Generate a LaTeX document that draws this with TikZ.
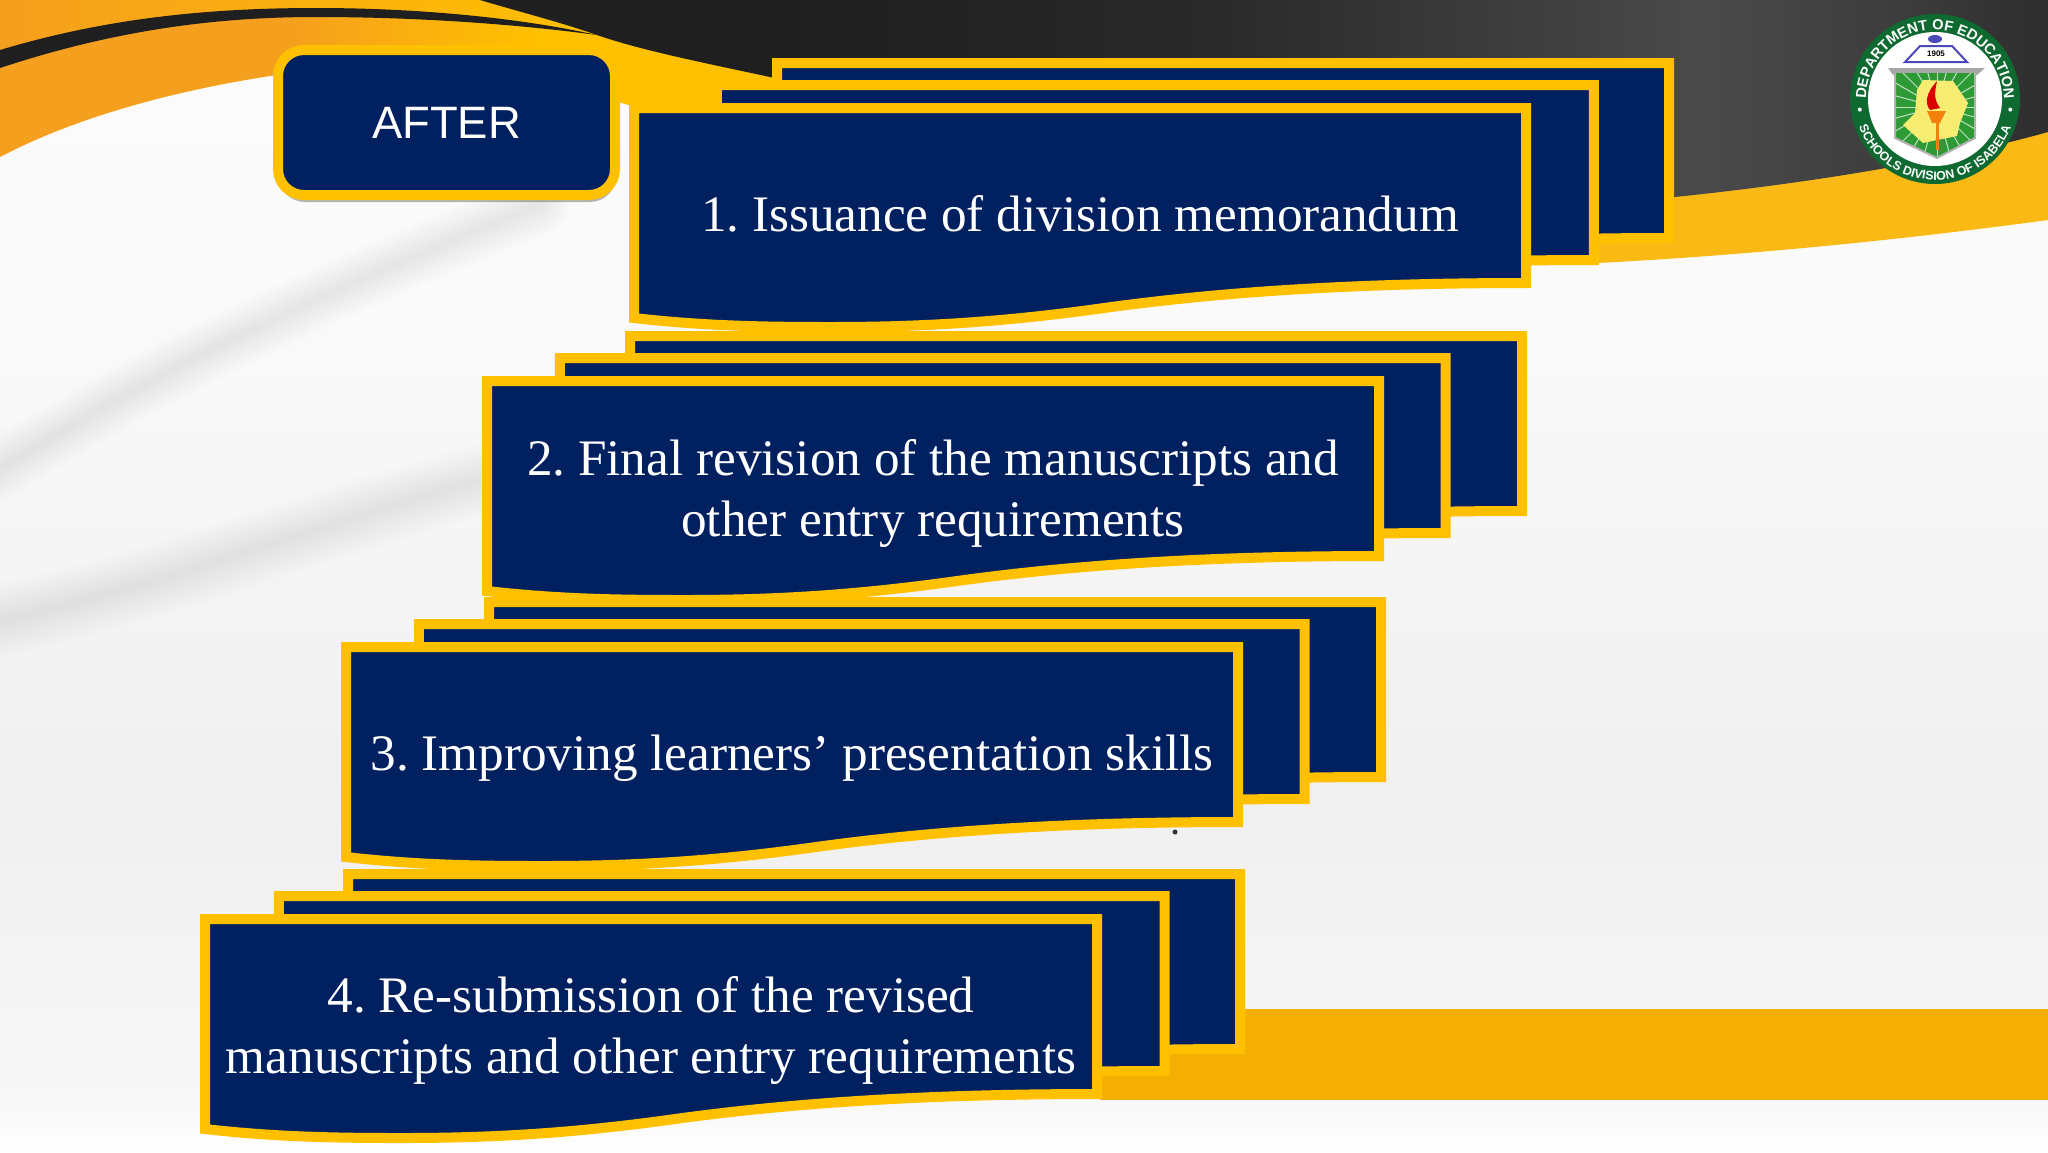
\documentclass[tikz,border=0pt]{standalone}
\usepackage{xcolor}
\usepackage{fontspec}
\setmainfont{Liberation Serif}
\newfontfamily\slidesans{Liberation Sans}
\usepackage{tikz}
\usetikzlibrary{shadows,decorations.text}
\definecolor{slideNavy}{HTML}{002060}
\definecolor{slideGold}{HTML}{FFC000}
\definecolor{slideBand}{HTML}{F5AE03}
\definecolor{slideAmber}{HTML}{F59F1E}
\definecolor{slideSwoosh}{HTML}{FBB915}
\definecolor{slideTop}{HTML}{FBFBFB}
\definecolor{slideUpper}{HTML}{FAFAFA}
\definecolor{slideMid}{HTML}{F0F0F0}
\definecolor{slideLow}{HTML}{F8F8F8}
\definecolor{sealGreen}{HTML}{0E6A30}
\definecolor{sealLeaf}{HTML}{2E9A35}
\definecolor{sealYellow}{HTML}{F7EC72}
\definecolor{sealBlue}{HTML}{4A4AB8}
\pgfdeclarehorizontalshading{darkband}{100bp}{color(0bp)=(black!88); color(34bp)=(black!88); color(48bp)=(black!84); color(64bp)=(black!71); color(70bp)=(black!76); color(75bp)=(black!82); color(100bp)=(black!82)}
\pgfdeclarehorizontalshading{goldband}{100bp}{color(0bp)=(slideAmber); color(32bp)=(slideAmber); color(38bp)=(slideGold); color(49bp)=(slideGold); color(66bp)=(slideSwoosh); color(100bp)=(slideSwoosh)}
\pgfdeclareverticalshading{pageback}{100bp}{color(0bp)=(white); color(25bp)=(white); color(27bp)=(slideLow); color(40bp)=(slideMid); color(62bp)=(slideUpper); color(75bp)=(slideTop); color(100bp)=(slideTop)}
\tikzset{
  doc sheet/.style={draw=slideGold,fill=slideNavy,line width=5pt,miter limit=10},
  item text/.style={text=white,font=\fontsize{25.6}{30.5}\selectfont,align=center,inner sep=0pt},
  after box/.style={draw=slideGold,fill=slideNavy,line width=5pt,rounded corners=13pt,
    minimum width=168.5pt,minimum height=72.5pt,text=white,
    font=\slidesans\fontsize{22.7}{26}\selectfont,
    drop shadow={shadow xshift=0.5pt,shadow yshift=-3.5pt,opacity=.4,fill=black!70}},
  streak/.style={line cap=round,draw=black,opacity=.006},
  seal text/.style={decorate,decoration={text along path,text color=white,text align=center,text={#1}}}
}
\newcommand{\docsheet}[3]{\path[doc sheet,shift={(#1,#2)},xscale=#3] (5,5) -- (897,5) -- (897,180)
  .. controls (745,180) and (605,187) .. (475,205) .. controls (375,219) and (295,224) .. (202,224)
  .. controls (135,224) and (75,223) .. (5,215) -- cycle;}
\newcommand{\sealtop}{\slidesans\bfseries\fontsize{7.3}{8}\selectfont}
\newcommand{\sealbottom}{\slidesans\bfseries\fontsize{6.2}{8}\selectfont}
\begin{document}
\frenchspacing
\begin{tikzpicture}[x=0.5pt,y=-0.5pt]
\useasboundingbox (0,0) rectangle (2048,1152);
\clip (0,0) rectangle (2048,1152);
\shade[shading=pageback] (0,0) rectangle (2048,1152);
% soft folds of the backdrop
\foreach \w in {6,12,...,60}{
  \draw[streak,line width=\w*0.5pt] (-20,480) .. controls (100,410) and (200,340) .. (540,205);
  \draw[streak,line width=\w*0.6pt] (-20,625) .. controls (150,590) and (300,530) .. (480,480);
}
% bands
\fill[slideBand] (1100,1009) rectangle (2048,1100);
\shade[shading=goldband] (0,0) -- (2048,0) -- (2048,220) .. controls (1900,240) and (1750,255) .. (1598,263)
  .. controls (1300,270) and (950,200) .. (625,104) .. controls (500,62) and (380,58) .. (270,76)
  .. controls (180,90) and (80,115) .. (0,157) -- cycle;
\shade[left color=slideAmber,right color=slideGold] (0,0) -- (597,0) -- (597,35) .. controls (520,18) and (420,8) .. (316,8)
  .. controls (200,8) and (100,20) .. (0,50) -- cycle;
\fill[black!88] (0,50) .. controls (100,20) and (200,8) .. (316,8) .. controls (420,8) and (520,18) .. (597,35)
  .. controls (500,22) and (400,17) .. (316,17) .. controls (200,17) and (100,35) .. (0,68) -- cycle;
\shade[shading=darkband] (480,0) .. controls (520,12) and (560,22) .. (597,35) .. controls (640,50) and (700,62) .. (770,77)
  .. controls (1000,140) and (1400,230) .. (1675,197) .. controls (1790,185) and (1930,165) .. (2048,132)
  -- (2048,0) -- cycle;
% stacks of sheets
\foreach \n/\sx/\sy/\mx/\ms/\ty/\itemtext in {
  1/629/103/83/.983/111/{1. Issuance of division memorandum},
  2/482/376/73/.993/117/{2. Final revision of the manuscripts and\\other entry requirements},
  3/341/642/73/.993/116/{3. Improving learners’ presentation skills},
  4/200/914/74/.993/116/{4. Re-submission of the revised\\manuscripts and other entry requirements}}{
  \begin{scope}[shift={(\sx,\sy)}]
    \docsheet{143}{-45}{1}
    \docsheet{\mx}{-23}{\ms}
    \docsheet{0}{0}{1}
    \node[item text] (item\n) at (451,\ty) {\itemtext};
  \end{scope}
}
\node[after box] (after) at (446.5,122.5) {\raisebox{-1pt}{AFTER}};
\fill[black!80] (1175,832) circle (2.5);
% seal
\begin{scope}[shift={(1935,99)},x=0.5pt,y=0.5pt]
  \fill[sealGreen] (0,0) circle (85);
  \fill[white] (0,0) circle (67);
  \path[seal text={|\sealtop|DEPARTMENT OF EDUCATION}] (186:69) arc[start angle=186,end angle=-6,radius=69];
  \path[seal text={|\sealbottom|SCHOOLS DIVISION OF ISABELA}] (195:81) arc[start angle=195,end angle=345,radius=81];
  \fill[white] (188:76) circle (2) (-8:76) circle (2);
  \fill[sealBlue] (0,60) ellipse (7 and 4);
  \draw[sealBlue,line width=1pt,fill=white] (-30,37) -- (32,37) -- (17,53) -- (-15,53) -- cycle;
  \node[font=\slidesans\bfseries\fontsize{4}{5}\selectfont,inner sep=0pt] (sealyear) at (1,45) {1905};
  \fill[gray!70] (-47,31) -- (50,31) -- (42,24) -- (-42,24) -- cycle;
  \begin{scope}
    \clip (-40,26) -- (40,26) -- (40,-39) -- (2,-59) -- (-40,-39) -- cycle;
    \fill[sealLeaf] (-50,30) rectangle (50,-65);
    \foreach \a in {0,15,...,345} \draw[white!70!sealLeaf,line width=.5pt] (2,-8) -- ++(\a:80);
  \end{scope}
  \draw[gray!60,line width=1pt] (-40,26) -- (-40,-39) -- (2,-59) -- (40,-39) -- (40,26);
  \fill[sealYellow] (-12,19) -- (18,18) -- (33,-4) -- (25,-24) -- (22,-37) -- (2,-41) -- (-12,-44) -- (-32,-26) -- (-20,-14) -- (-18,9) -- cycle;
  \fill[orange!80!brown] (0.5,-16) rectangle (3.5,-51);
  \fill[orange!80!brown] (-8,-12) -- (11,-12) -- (5,-24) -- (-3,-24) -- cycle;
  \fill[red!85!black] (2,18) .. controls (-10,5) and (-10,-5) .. (-5,-11) -- (5,-9) .. controls (-2,0) and (0,8) .. (2,18);
\end{scope}
\end{tikzpicture}
\end{document}
